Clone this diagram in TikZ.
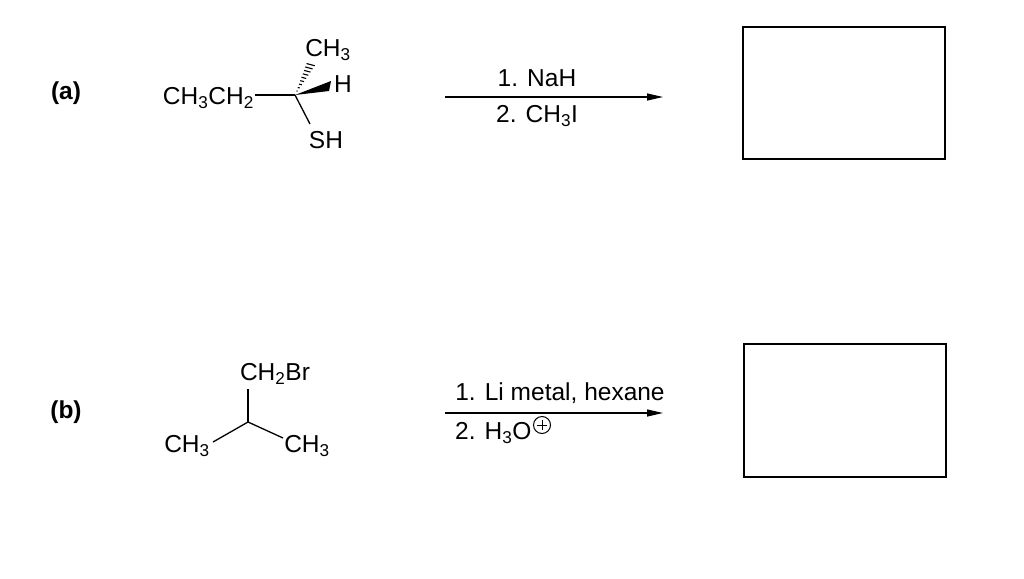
\documentclass[tikz,border=0pt]{standalone}
\usepackage{fontspec}
\setmainfont{Liberation Sans}
\usetikzlibrary{arrows.meta,calc}
\begin{document}
\begin{tikzpicture}[x=1pt,y=-1pt,
  txt/.style={font=\fontsize{24.5}{28}\selectfont,inner sep=0pt},
  bond/.style={line width=1.3pt},
  rxn/.style={line width=1.2pt,-{Triangle[length=16pt,width=7pt]}},
  prod/.style={draw,line width=1.4pt}]
\useasboundingbox (0,0) rectangle (1024,578);
% (a)
\node[txt,font=\fontsize{24.5}{28}\selectfont\bfseries] (la) at (66,93) {(a)};
\node[txt,anchor=east] (et) at (254,98) {CH\textsubscript{3}CH\textsubscript{2}};
\coordinate (c) at (295,95);
\draw[bond] (255,95) -- (c);
\node[txt] (me) at (328,50) {CH\textsubscript{3}};
\node[txt] (h) at (343,84) {H};
\node[txt] (sh) at (326,140) {SH};
\foreach \t in {0.12,0.22,...,0.95}{
  \draw[line width=1.1pt] ($(c)!\t!(312,62)+(-\t*4.5,-\t*1.2)$) -- ($(c)!\t!(312,62)+(\t*4.5,\t*1.2)$);
}
\fill (c) -- (331,81) -- (329,91) -- cycle;
\draw[bond] (c) -- (310,124);
% arrow a
\coordinate (a1) at (445,97); \coordinate (a2) at (663,97);
\draw[rxn] (a1) -- (a2);
\node[txt] (r1) at (537,78) {1. NaH};
\node[txt] (r2) at (537,116) {2. CH\textsubscript{3}I};
\draw[prod] (743,27) rectangle (945,159);
% (b)
\node[txt,font=\fontsize{24.5}{28}\selectfont\bfseries] (lb) at (66,412) {(b)};
\node[txt] (br) at (275,374) {CH\textsubscript{2}Br};
\coordinate (cb) at (248,422);
\draw[bond] (248,389) -- (cb);
\draw[bond] (cb) -- (213,442);
\draw[bond] (cb) -- (283,438);
\node[txt] (m1) at (187,446) {CH\textsubscript{3}};
\node[txt] (m2) at (307,446) {CH\textsubscript{3}};
\draw[rxn] (445,413) -- (663,413);
\node[txt] (s1) at (560,393) {1. Li metal, hexane};
\node[txt,anchor=west] (s2) at (455,433) {2. H\textsubscript{3}O};
\draw[line width=1pt] (542,425) circle (8.5);
\draw[line width=1pt] (537,425) -- (547,425) (542,420) -- (542,430);
\draw[prod] (744,344) rectangle (946,477);
\end{tikzpicture}
\end{document}
